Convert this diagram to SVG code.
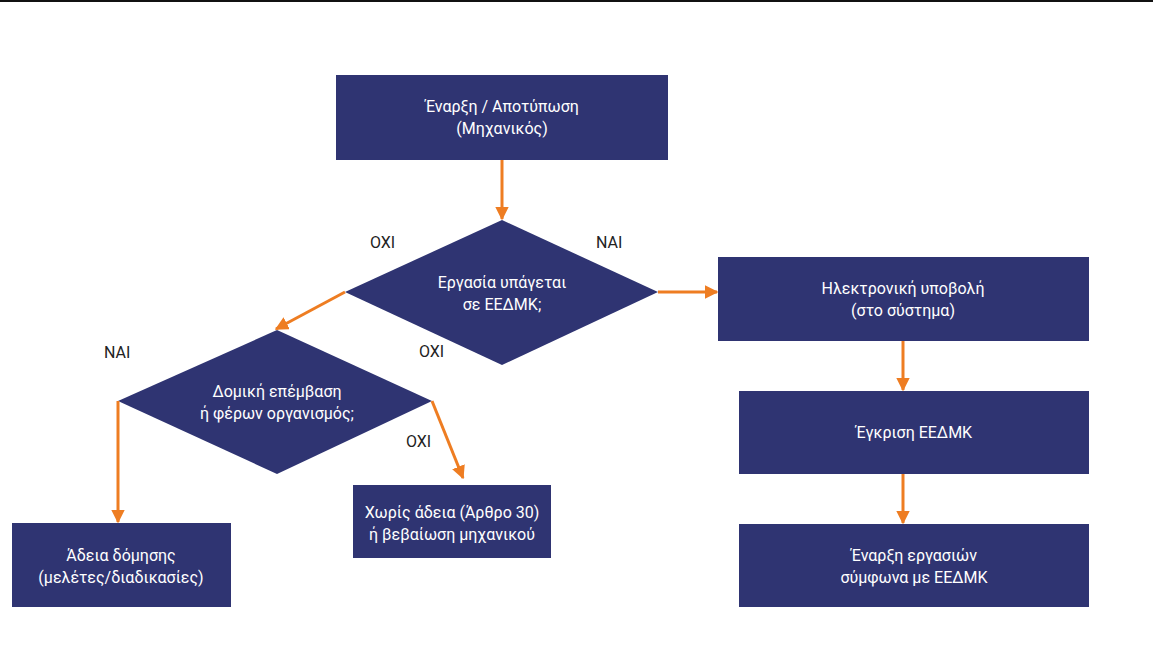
<svg xmlns="http://www.w3.org/2000/svg" width="1153" height="657" viewBox="0 0 1153 657">
<style>
.n{fill:#2f3472}
.t{fill:#fff;font-family:Roboto,"Liberation Sans",sans-serif;font-size:16px;text-anchor:middle}
.l{fill:#222;font-family:Roboto,"Liberation Sans",sans-serif;font-size:16px}
.c{stroke:#ee7d22;stroke-width:3;fill:none}
</style>
<defs><marker id="a" viewBox="0 0 10 10" refX="9" refY="5" markerWidth="4.5" markerHeight="4.5" orient="auto" markerUnits="strokeWidth"><path d="M0,0L10,5L0,10z" fill="#ee7d22"/></marker></defs>
<rect width="1153" height="657" fill="#fff"/>
<rect width="1153" height="2" fill="#111"/>
<g id="start"><rect class="n" x="336" y="75" width="332" height="85"/><text class="t" x="502" y="112">Έναρξη / Αποτύπωση</text><text class="t" x="502" y="134">(Μηχανικός)</text></g>
<g id="d1"><path class="n" d="M502,220L658,292L502,365L345,292z"/><text class="t" x="502" y="288">Εργασία υπάγεται</text><text class="t" x="502" y="310">σε ΕΕΔΜΚ;</text></g>
<g id="d2"><path class="n" d="M277,330L432,401L277,474L118,401z"/><text class="t" x="277" y="397">Δομική επέμβαση</text><text class="t" x="277" y="419">ή φέρων οργανισμός;</text></g>
<g id="sub"><rect class="n" x="718" y="257" width="371" height="84"/><text class="t" x="903" y="294">Ηλεκτρονική υποβολή</text><text class="t" x="903" y="316">(στο σύστημα)</text></g>
<g id="app"><rect class="n" x="739" y="391" width="350" height="83"/><text class="t" x="914" y="438">Έγκριση ΕΕΔΜΚ</text></g>
<g id="work"><rect class="n" x="739" y="524" width="350" height="83"/><text class="t" x="914" y="561">Έναρξη εργασιών</text><text class="t" x="914" y="583">σύμφωνα με ΕΕΔΜΚ</text></g>
<g id="permit"><rect class="n" x="12" y="523" width="219" height="84"/><text class="t" x="121" y="561">Άδεια δόμησης</text><text class="t" x="121" y="583">(μελέτες/διαδικασίες)</text></g>
<g id="nop"><rect class="n" x="353" y="485" width="198" height="73"/><text class="t" x="452" y="518">Χωρίς άδεια (Άρθρο 30)</text><text class="t" x="452" y="540">ή βεβαίωση μηχανικού</text></g>
<g id="connectors">
<path class="c" marker-end="url(#a)" d="M502,160V219"/>
<path class="c" marker-end="url(#a)" d="M658,292H717"/>
<path class="c" marker-end="url(#a)" d="M345,292L276,329"/>
<path class="c" marker-end="url(#a)" d="M432,401L463,478"/>
<path class="c" marker-end="url(#a)" d="M118,401V522"/>
<path class="c" marker-end="url(#a)" d="M903,341V390"/>
<path class="c" marker-end="url(#a)" d="M903,474V523"/>
</g>
<g id="labels">
<text class="l" x="370" y="248">ΟΧΙ</text>
<text class="l" x="596" y="248">ΝΑΙ</text>
<text class="l" x="419" y="357">ΟΧΙ</text>
<text class="l" x="104" y="358">ΝΑΙ</text>
<text class="l" x="406" y="447">ΟΧΙ</text>
</g>
</svg>
